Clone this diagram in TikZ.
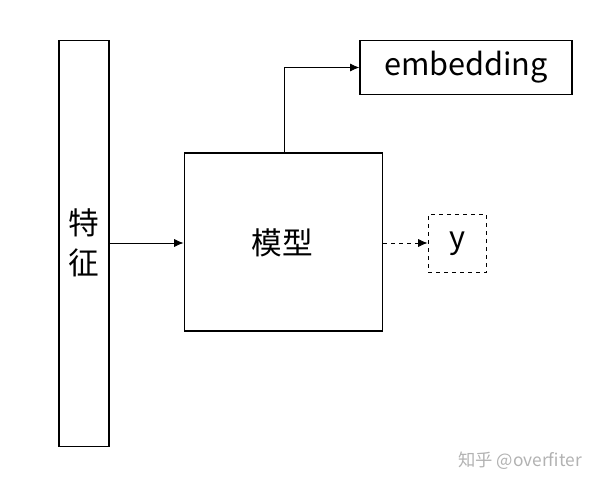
\documentclass[tikz,border=0pt]{standalone}
\usepackage{fontspec}
\setmainfont{Noto Sans CJK SC}
\usetikzlibrary{arrows.meta}
\begin{document}
\begin{tikzpicture}[x=0.75pt,y=-0.75pt,
  box/.style={draw,line width=0.9pt,inner sep=0pt},
  conn/.style={-{Latex[length=7pt,width=6pt]},line width=0.6pt},
  big/.style={font=\fontsize{23}{30}\selectfont}]
\useasboundingbox (0,0) rectangle (600,485);
\node[box,minimum width=37.5pt,minimum height=305pt] (feat) at (84,243.5) {};
\node[big,align=center] at (84,243) {特\\征};
\node[box,minimum width=149pt,minimum height=133.5pt] (model) at (283.5,242) {};
\node[big] at (282,243) {模型};
\node[box,minimum width=159pt,minimum height=41pt,big] (emb) at (466,67.5) {embedding};
\node[box,dashed,minimum width=44pt,minimum height=43pt,big] (y) at (457.5,243.5) {y};
\coordinate (top) at (284,153);
\draw[conn] (feat.east |- 0,243) -- (model.west |- 0,243);
\draw[conn] (top) |- (emb.west);
\draw[conn,dashed] (model.east |- 0,243) -- (y.west |- 0,243);
\node[text=gray!60,font=\fontsize{13}{15}\selectfont] (wm) at (520,461) {知乎 @overfiter};
\end{tikzpicture}
\end{document}
